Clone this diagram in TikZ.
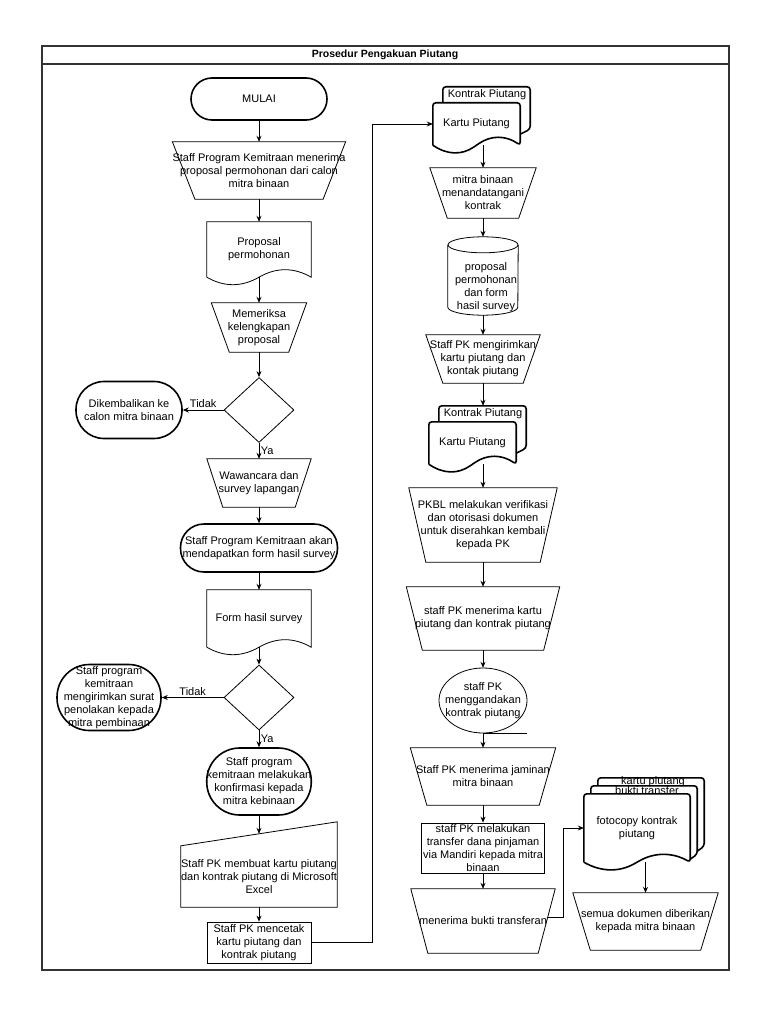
\documentclass[tikz,border=0pt]{standalone}
\usepackage{fontspec}
\setmainfont{Liberation Sans}
\usepackage{tikz}
\usetikzlibrary{calc,shapes.geometric,arrows.meta}

\tikzset{
  garis/.style={line width=0.8pt},
  tebal/.style={line width=1.6pt},
  teks/.style={font=\fontsize{11}{13}\selectfont, align=center, inner sep=0pt},
  term/.style={teks, draw, tebal, rounded corners=#1},
  kotak/.style={teks, draw, garis, inner sep=1pt},
  putus/.style={diamond, draw, garis, inner sep=0pt},
  panah/.style={-{Stealth[length=6pt,width=5pt]}, garis},
  lbl/.style={font=\fontsize{11}{13}\selectfont, inner sep=1.5pt},
}

% bentuk trapesium (manual operation)
\newcommand{\trapesium}[2]{\draw[garis] (#1.north west) -- (#1.north east) -- ($(#1.south east)+(-#2,0)$) -- ($(#1.south west)+(#2,0)$) -- cycle;}
% bentuk dokumen dengan sisi bawah bergelombang
\newcommand{\dokumen}[2][garis]{\draw[#1] (#2.south west) -- (#2.north west) -- (#2.north east) -- (#2.south east)
  .. controls ($(#2.south east)!0.333!(#2.south)+(0,-10)$) and ($(#2.south)!0.333!(#2.south east)+(0,-10)$) .. (#2.south)
  .. controls ($(#2.south)!0.333!(#2.south west)+(0,10)$) and ($(#2.south west)!0.333!(#2.south)+(0,10)$) .. (#2.south west);}
% halaman di belakang dokumen
\newcommand{\halaman}[5]{\draw[tebal, rounded corners=3] ($(#1.north west)+(#2,#5)$) -- ($(#1.north west)+(#2,#3)$) -- ($(#1.north east)+(#2,#3)$) -- ($(#1.south east)+(#2,#3)$) -- ($(#1.south east)+(#4,#3+5)$);}

\begin{document}
\begin{tikzpicture}[x=1pt,y=-1pt]
\useasboundingbox (0,0) rectangle (768,1024);
% Bingkai
\draw[line width=1.2pt, black!80] (42,46) rectangle (729,970);
\draw[line width=1.2pt, black!80] (42,64) -- (729,64);
\node[teks, font=\fontsize{10.5}{12}\selectfont\bfseries] (judul) at (385,55) {Prosedur Pengakuan Piutang};

% Kolom kiri
\node[term=21, minimum width=136, minimum height=42] (mulai) at (259,99) {MULAI};
\node[teks, minimum width=172, minimum height=57] (terima) at (259,170.5) {Staff Program Kemitraan menerima\\proposal permohonan dari calon\\mitra binaan};
\trapesium{terima}{22.5}
\node[teks, minimum width=104, minimum height=55] (proposal) at (259,249.5) {Proposal\\permohonan};
\dokumen{proposal}
\node[teks, minimum width=95, minimum height=49] (periksa) at (259,327.5) {Memeriksa\\kelengkapan\\proposal};
\trapesium{periksa}{18}
\node[putus, minimum width=70, minimum height=65] (cek1) at (259,410) {};
\node[term=28, minimum width=106, minimum height=57] (kembali) at (129,410) {Dikembalikan ke\\calon mitra binaan};
\node[teks, minimum width=104, minimum height=48] (wawancara) at (259,483) {Wawancara dan\\survey lapangan};
\trapesium{wawancara}{16}
\node[term=23.5, minimum width=157, minimum height=48] (hasil) at (259,548) {Staff Program Kemitraan akan\\mendapatkan form hasil survey};
\node[teks, minimum width=104, minimum height=57] (form) at (259,618.5) {Form hasil survey};
\dokumen{form}
\node[putus, minimum width=70, minimum height=65] (cek2) at (259,697.5) {};
\node[term=32.5, minimum width=104, minimum height=66] (tolak) at (109,697.5) {Staff program\\kemitraan\\mengirimkan surat\\penolakan kepada\\mitra pembinaan};
\node[term=33, minimum width=104, minimum height=67] (konfirmasi) at (259,781.5) {Staff program\\kemitraan melakukan\\konfirmasi kepada\\mitra kebinaan};
\node[teks, minimum width=150, minimum height=61] (excel) at (259,876.5) {Staff PK membuat kartu piutang\\dan kontrak piutang di Microsoft\\Excel};
\draw[garis] (excel.north west) -- ($(excel.north east)+(0,-24)$) -- (excel.south east) -- (excel.south west) -- cycle;
\coordinate (excelatas) at ($(excel.north)+(0,-12)$);
\node[kotak, minimum width=104, minimum height=41] (cetak) at (259,942.5) {Staff PK mencetak\\kartu piutang dan\\kontrak piutang};

% Kolom kanan
\node[teks, minimum width=87, minimum height=42] (kartu1) at (476.5,124) {Kartu Piutang};
\halaman{kartu1}{10}{-16}{0}{0}
\dokumen[tebal, rounded corners=3]{kartu1}
\node[teks] (kontrak1) at (487,95) {Kontrak Piutang};
\node[teks, minimum width=106, minimum height=50] (ttd) at (483,193) {mitra binaan\\menandatangani\\kontrak};
\trapesium{ttd}{17.5}
\node[teks, minimum width=70, minimum height=78] (arsip) at (483,276) {};
\draw[garis] (arsip.north) ++(0,8) ellipse [x radius=35, y radius=8];
\draw[garis] ($(arsip.north west)+(0,8)$) -- ($(arsip.south west)+(0,-8)$) arc [start angle=180, end angle=0, x radius=35, y radius=8] -- ($(arsip.north east)+(0,8)$);
\node[teks] (arsipteks) at (486,287) {proposal\\permohonan\\dan form\\hasil survey};
\node[teks, minimum width=114, minimum height=48] (kirim) at (483,359) {Staff PK mengirimkan\\kartu piutang dan\\kontak piutang};
\trapesium{kirim}{17}
\node[teks, minimum width=87, minimum height=42] (kartu2) at (472.5,443) {Kartu Piutang};
\halaman{kartu2}{10}{-16}{0}{0}
\dokumen[tebal, rounded corners=3]{kartu2}
\node[teks] (kontrak2) at (483,414) {Kontrak Piutang};
\coordinate (kartu2atas) at ($(kartu2.north -| kirim.south)+(0,-16)$);
\node[teks, minimum width=148, minimum height=74] (verifikasi) at (483,525) {PKBL melakukan verifikasi\\dan otorisasi dokumen\\untuk diserahkan kembali\\kepada PK};
\trapesium{verifikasi}{17}
\node[teks, minimum width=153, minimum height=63] (terimakartu) at (483,618.5) {staff PK menerima kartu\\piutang dan kontrak piutang};
\trapesium{terimakartu}{16}
\node[teks, minimum width=88, minimum height=65] (ganda) at (483,700.5) {staff PK\\menggandakan\\kontrak piutang};
\draw[garis] (ganda.center) ellipse [x radius=44, y radius=32.5];
\draw[garis] (ganda.south) -- ++(44,0);
\node[teks, minimum width=145, minimum height=57] (jaminan) at (483,776.5) {Staff PK menerima jaminan\\mitra binaan};
\trapesium{jaminan}{16.5}
\node[kotak, minimum width=123, minimum height=50] (transfer) at (483,848) {staff PK melakukan\\transfer dana pinjaman\\via Mandiri kepada mitra\\binaan};
\node[teks, minimum width=144, minimum height=64] (bukti) at (483,921) {menerima bukti transferan};
\trapesium{bukti}{17}
\coordinate (buktikanan) at ($(bukti.east)+(-8.5,-4)$);
\node[teks, minimum width=106, minimum height=68] (fotokopi) at (637,828) {fotocopy kontrak\\piutang};
\halaman{fotokopi}{7}{-8}{0}{0}
\halaman{fotokopi}{14}{-16}{7}{-8}
\dokumen[tebal, rounded corners=3]{fotokopi}
\node[teks] (bukti2) at (647,791) {bukti transfer};
\node[teks] (kartu3) at (653,782) {kartu piutang};
\node[teks, minimum width=145, minimum height=57] (semua) at (645.5,921.5) {semua dokumen diberikan\\kepada mitra binaan};
\trapesium{semua}{17.5}

% Garis alur
\draw[panah] (mulai) -- (terima);
\draw[panah] (terima) -- (proposal);
\draw[panah] (proposal) -- (periksa);
\draw[panah] (periksa) -- (cek1);
\draw[panah] (cek1.west) -- (kembali.east) node[lbl, midway, above] {Tidak};
\draw[panah] (cek1.south) -- (wawancara.north) node[lbl, midway, right] {Ya};
\draw[panah] (wawancara) -- (hasil);
\draw[panah] (hasil) -- (form);
\draw[panah] (form) -- (cek2);
\draw[panah] (cek2.west) -- (tolak.east) node[lbl, midway, above] {Tidak};
\draw[panah] (cek2.south) -- (konfirmasi.north) node[lbl, midway, right] {Ya};
\draw[panah] (konfirmasi) -- (excelatas);
\draw[panah] (excel) -- (cetak);
\coordinate (belok1) at (372,0);
\draw[panah] (cetak.east) -- (cetak.east -| belok1) |- (kartu1.west);
\draw[panah] (kartu1.south -| ttd.north) -- (ttd.north);
\draw[panah] (ttd) -- (arsip);
\draw[panah] (arsip) -- (kirim);
\draw[panah] (kirim.south) -- (kartu2atas);
\draw[panah] (kartu2.south -| verifikasi.north) -- (verifikasi.north);
\draw[panah] (verifikasi) -- (terimakartu);
\draw[panah] (terimakartu) -- (ganda);
\draw[panah] (ganda) -- (jaminan);
\draw[panah] (jaminan) -- (transfer);
\draw[panah] (transfer) -- (bukti);
\coordinate (belok2) at (563,0);
\draw[panah] (buktikanan) -- (buktikanan -| belok2) |- (fotokopi.west);
\draw[panah] (fotokopi.south -| semua.north) -- (semua.north);
\end{tikzpicture}
\end{document}
